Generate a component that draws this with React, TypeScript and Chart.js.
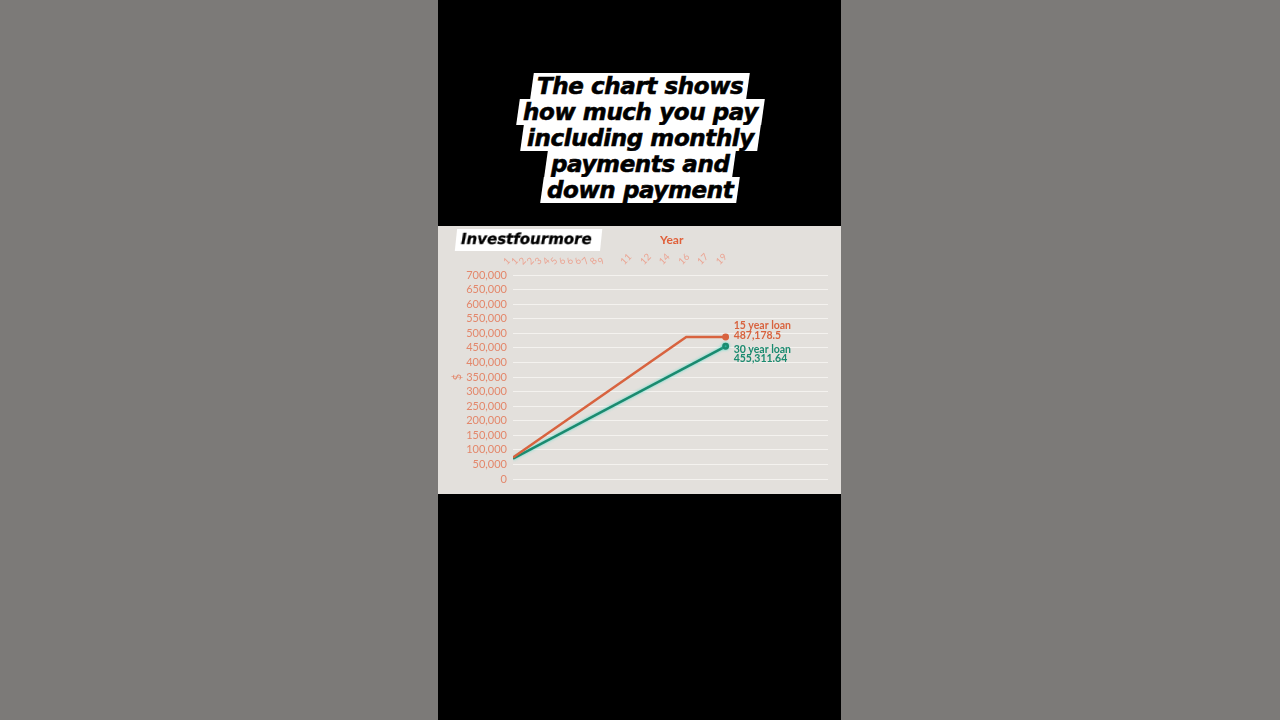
import React, { useEffect, useRef } from 'react'
import { Chart } from 'chart.js/auto'

// x positions of the (garbled) year ticks along the top axis, and their labels
const yearTickValues = [0, 0.8, 1.6, 2.4, 3.2, 4, 4.8, 5.6, 6.4, 7.2, 8, 8.8, 9.6, 11.9, 13.9, 15.8, 17.8, 19.7, 21.6]
const yearTickLabels = ['1', '1', '2', '2', '3', '4', '5', '6', '6', '6', '7', '8', '9', '11', '12', '14', '16', '17', '19']

// total paid (down payment + monthly payments)
const loan15Years = [0, 17.6, 21.6]
const loan15Paid = [74000, 487178.5, 487178.5]
const loan30Years = [0, 21.6]
const loan30Paid = [70000, 455311.64]
const seriesNames = ['15 year loan', '30 year loan']

const titleLines = ['The chart shows', 'how much you pay', 'including monthly', 'payments and', 'down payment']

const ORANGE = '#d8633f'
const GREEN = '#1b8a6f'
const TICK = '#e3876b'

const LoanChart: React.FC = () => {
  const ref = useRef<HTMLCanvasElement | null>(null)

  useEffect(() => {
    if (!ref.current) return

    const endLabels = {
      id: 'endLabels',
      afterDatasetsDraw(chart: any) {
        const { ctx } = chart
        ctx.save()
        ctx.font = 'bold 10.5px Lato, sans-serif'
        ctx.textAlign = 'left'
        ctx.textBaseline = 'middle'
        chart.data.datasets.forEach((ds: any, i: number) => {
          const meta = chart.getDatasetMeta(i)
          const last = meta.data[meta.data.length - 1]
          if (!last) return
          const value = ds.data[ds.data.length - 1].y as number
          const dy = i === 0 ? -11 : 3
          ctx.fillStyle = ds.borderColor
          ctx.fillText(ds.label, last.x + 8, last.y + dy)
          ctx.fillText(value.toLocaleString('en-US', { maximumFractionDigits: 2 }), last.x + 8, last.y + dy + 9.5)
        })
        ctx.restore()
      },
    }

    const glow = {
      id: 'glow',
      beforeDatasetDraw(chart: any, args: any) {
        const { ctx } = chart
        ctx.save()
        if (args.index === 1) {
          ctx.shadowColor = 'rgba(40, 220, 200, 0.7)'
          ctx.shadowBlur = 3
        }
      },
      afterDatasetDraw(chart: any) {
        chart.ctx.restore()
      },
    }

    const lastOnly = (c: any) => (c.dataIndex === c.dataset.data.length - 1 ? 2.2 : 0)

    const chart = new Chart(ref.current, {
      type: 'line',
      data: {
        datasets: [
          {
            label: seriesNames[0],
            data: loan15Years.map((x, i) => ({ x, y: loan15Paid[i] })),
            borderColor: ORANGE,
            backgroundColor: ORANGE,
            borderWidth: 2.5,
            pointRadius: lastOnly,
            tension: 0,
          },
          {
            label: seriesNames[1],
            data: loan30Years.map((x, i) => ({ x, y: loan30Paid[i] })),
            borderColor: GREEN,
            backgroundColor: GREEN,
            borderWidth: 2.5,
            pointRadius: lastOnly,
            tension: 0,
          },
        ],
      },
      options: {
        animation: false,
        responsive: true,
        maintainAspectRatio: false,
        layout: { padding: { left: 0, top: 0, right: 13, bottom: 15 } },
        plugins: { legend: { display: false }, tooltip: { enabled: false } },
        scales: {
          x: {
            type: 'linear',
            position: 'top',
            min: 0,
            max: 32,
            afterBuildTicks(scale: any) {
              scale.ticks = yearTickValues.map((value) => ({ value }))
            },
            afterFit(scale: any) {
              scale.height = 49
            },
            grid: { display: false, drawTicks: false },
            border: { display: false },
            ticks: {
              autoSkip: false,
              minRotation: 45,
              maxRotation: 45,
              padding: 8,
              color: '#eba594',
              font: { family: 'Lato, sans-serif', size: 9.5 },
              callback: (_v: any, i: number) => yearTickLabels[i],
            },
          },
          y: {
            min: 0,
            max: 700000,
            afterFit(scale: any) {
              scale.width = 75
            },
            grid: { color: 'rgba(250, 248, 246, 0.75)', lineWidth: 1, drawTicks: false },
            border: { display: false },
            title: {
              display: true,
              text: '$',
              color: TICK,
              font: { family: 'Lato, sans-serif', size: 11 },
              padding: { top: 13, bottom: 0 },
            },
            ticks: {
              stepSize: 50000,
              autoSkip: false,
              padding: 6,
              color: TICK,
              font: { family: 'Lato, sans-serif', size: 11 },
              callback: (v: any) => Number(v).toLocaleString('en-US'),
            },
          },
        },
      },
      plugins: [glow, endLabels],
    })
    return () => chart.destroy()
  }, [])

  return <canvas ref={ref} style={{ width: '100%', height: '100%' }} />
}

export default function App() {
  return (
    <div style={{ position: 'fixed', inset: 0, background: '#7c7a78', overflow: 'hidden' }}>
      <div style={{ position: 'absolute', left: 438, top: 0, width: 403, height: 720, background: '#000' }} />
      <div style={{ position: 'absolute', left: 0, top: 73, width: 1280, textAlign: 'center' }}>
        {titleLines.map((line) => (
          <div key={line} style={{ height: 26 }}>
            <span
              style={{
                display: 'inline-block',
                background: '#fff',
                padding: '0 5px',
                height: 26,
                lineHeight: '27px',
                transform: 'skewX(-8deg)',
              }}
            >
              <span
                style={{
                  display: 'inline-block',
                  transform: 'skewX(8deg)',
                  font: 'oblique bold 23px "DejaVu Sans", sans-serif',
                  color: '#000',
                  letterSpacing: -0.4,
                  WebkitTextStroke: '0.6px #000',
                }}
              >
                {line}
              </span>
            </span>
          </div>
        ))}
      </div>
      <div style={{ position: 'absolute', left: 438, top: 226, width: 403, height: 268, background: '#e3e0dc' }}>
        <LoanChart />
        <div
          style={{
            position: 'absolute',
            left: 18,
            top: 3,
            height: 21,
            padding: '0 9px 0 5px',
            background: '#fff',
            transform: 'skewX(-6deg)',
          }}
        >
          <span
            style={{
              display: 'inline-block',
              transform: 'skewX(6deg)',
              font: 'oblique bold 15px "DejaVu Sans", sans-serif',
              lineHeight: '21px',
              color: '#000',
              WebkitTextStroke: '0.3px #000',
            }}
          >
            Investfourmore
          </span>
        </div>
        <div style={{ position: 'absolute', left: 222, top: 6, font: 'bold 12px Lato, sans-serif', color: '#e0603a' }}>Year</div>
      </div>
    </div>
  )
}
